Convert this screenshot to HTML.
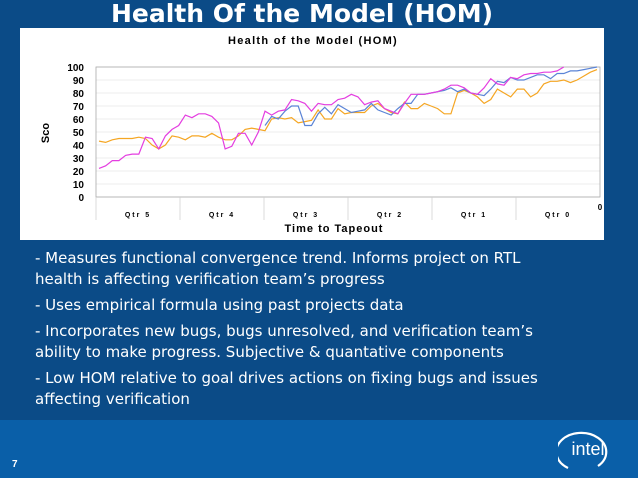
<!DOCTYPE html>
<html><head><meta charset="utf-8"><style>
body{margin:0;width:638px;height:478px;overflow:hidden;background:#0b4b87;font-family:"Liberation Sans",sans-serif;position:relative}
.t{position:absolute;color:#fff}
</style></head><body>
<div class="t" style="left:0;width:604px;text-align:center;top:-1px;font:bold 25px 'DejaVu Sans',sans-serif;">Health Of the Model (HOM)</div>
<svg style="position:absolute;left:0;top:0" width="638" height="250" id="chart">
<rect x="20" y="28" width="584" height="212" fill="#fff"/>
<text x="313" y="44" text-anchor="middle" font-family="Liberation Sans" font-weight="bold" font-size="11" letter-spacing="1.3">Health of the Model (HOM)</text>
<text transform="translate(49,133) rotate(-90)" text-anchor="middle" font-weight="bold" font-size="11" font-family="Liberation Sans">Sco</text>
<text x="334" y="232" text-anchor="middle" font-weight="bold" font-size="11" letter-spacing="1" font-family="Liberation Sans">Time to Tapeout</text>
<text x="600" y="210" text-anchor="middle" font-weight="bold" font-size="8" font-family="Liberation Sans">0</text>
<g id="g"></g>
</svg>
<div class="t" style="left:35px;top:248px;width:525px;font:15px 'DejaVu Sans',sans-serif;line-height:21px">
<div>- Measures functional convergence trend. Informs project on RTL health is affecting verification team’s progress</div>
<div style="margin-top:5px">- Uses empirical formula using past projects data</div>
<div style="margin-top:5px">- Incorporates new bugs, bugs unresolved, and verification team’s ability to make progress. Subjective &amp; quantative components</div>
<div style="margin-top:5px">- Low HOM relative to goal drives actions on fixing bugs and issues affecting verification</div>
</div>
<div style="position:absolute;left:0;top:420px;width:638px;height:58px;background:#0a5fa8"></div>
<div class="t" style="left:12px;top:459px;font-size:10px;font-weight:bold">7</div>
<svg style="position:absolute;left:558px;top:424px" width="58" height="50">
<path d="M10 44 A25 19 0 1 1 40 42" stroke="#fff" stroke-width="2.2" fill="none"/>
<text x="30" y="31" text-anchor="middle" fill="#fff" font-size="18" font-family="Liberation Sans">intel</text>
</svg>
<script>
const quarters=["Qtr 5","Qtr 4","Qtr 3","Qtr 2","Qtr 1","Qtr 0"];
const yTicks=[0,10,20,30,40,50,60,70,80,90,100];
const orangeStart=0;
const orange=[43,42,44,45,45,45,46,45,40,37,40,47,46,44,47,47,46,49,46,44,44,47,52,53,52,51,60,61,60,61,57,58,59,67,60,60,68,64,65,65,65,70,72,68,65,64,73,68,68,72,70,68,64,64,80,82,80,77,72,75,83,80,77,83,83,77,80,87,89,89,90,88,90,93,96,98];
const magentaStart=0;
const magenta=[22,24,28,28,32,33,33,46,45,37,47,52,55,63,61,64,64,62,57,37,39,49,49,40,50,66,63,66,67,75,74,72,66,72,71,71,75,76,79,77,71,73,74,68,66,64,72,79,79,79,80,81,83,86,86,84,80,79,84,91,87,86,92,91,94,95,95,96,96,97,100];
const blueStart=25;
const blue=[55,62,60,66,70,70,55,55,64,69,64,71,68,65,66,67,72,67,65,63,68,72,72,79,79,80,81,82,84,81,83,80,79,78,83,89,88,92,90,90,92,94,94,91,95,95,97,97,98,99,100];
const N=76,L=96,R=600,T=67,B=197;
const xs=i=>L+3+i*(R-L-6)/(N-1);
const ys=v=>B-v*(B-T)/100;
const g=document.getElementById('g');
const NS='http://www.w3.org/2000/svg';
function mk(t,a){const e=document.createElementNS(NS,t);for(const k in a)e.setAttribute(k,a[k]);g.appendChild(e);return e;}
yTicks.forEach(v=>{
 const l=mk('line',{x1:L,x2:R,y1:ys(v),y2:ys(v),stroke:'#e6e6e6','stroke-width':0.7});
 
 
 const t=mk('text',{x:L-12,y:ys(v)+4,'text-anchor':'end','font-size':10,'font-weight':'bold','font-family':'Liberation Sans'});
 t.textContent=v;
 
 
});
const fr=mk('rect',{x:L,y:T,width:R-L,height:B-T,fill:'none',stroke:'#aaa','stroke-width':0.8});


const qw=(R-L)/quarters.length;
quarters.forEach((q,i)=>{
 const x=L+qw*i;
 const l=mk('line',{x1:x,x2:x,y1:B,y2:B+23,stroke:'#ccc','stroke-width':0.7});
 
 
 const t=mk('text',{x:x+qw/2,y:B+20,'text-anchor':'middle','font-size':7,'font-weight':'bold','letter-spacing':2,'font-family':'Liberation Sans'});
 t.textContent=q;
 
 
});
function line(arr,start,color,name){
 const p=mk('polyline',{points:arr.map((v,i)=>xs(start+i)+','+ys(v)).join(' '),fill:'none',stroke:color,'stroke-width':1.2});
 
 
}
line(orange,orangeStart,'#f5a623','orange-series');
line(blue,blueStart,'#5b84d6','blue-series');
line(magenta,magentaStart,'#e43ee0','magenta-series');
</script>
</body></html>
